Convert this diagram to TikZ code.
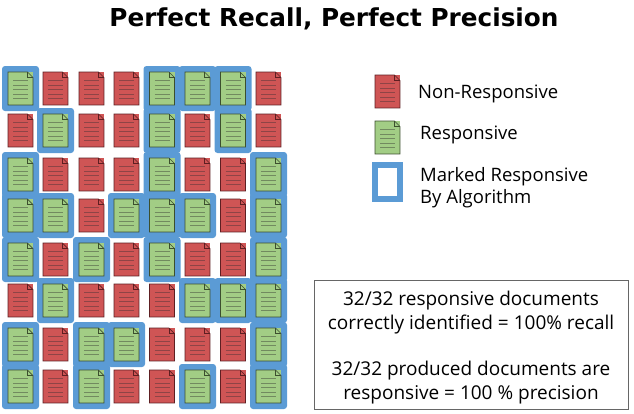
\documentclass[tikz,border=0pt]{standalone}
\usepackage{fontspec}
\setmainfont{Open Sans}
\newfontfamily\titlefont{DejaVu Sans}
\definecolor{mkblue}{HTML}{5B9BD5}
\definecolor{redfill}{HTML}{CF5555}
\definecolor{redline}{HTML}{5E1F22}
\definecolor{redrule}{HTML}{8E4446}
\definecolor{greenfill}{HTML}{A2CD85}
\definecolor{greenline}{HTML}{3C4F2E}
\definecolor{greenrule}{HTML}{718A5F}
\tikzset{
  mark box/.style={fill=mkblue,rounded corners=3pt},
  doc text/.style={font=\fontsize{19}{23.4}\selectfont,align=center,text=black},
  legend text/.style={font=\fontsize{18.5}{22}\selectfont,align=left,anchor=west,text=black,inner sep=0pt},
  pics/doc/.style args={#1/#2/#3}{code={
    \fill[#1] (-12.5,-16.5) rectangle (12.5,16.5);
    \draw[#2,line width=0.7pt,line join=miter] (-12.5,-16.5) -- (7,-16.5) -- (12.5,-11) -- (12.5,16.5) -- (-12.5,16.5) -- cycle;
    \draw[#2,line width=0.4pt] (7,-16.5) -- (7,-11) -- (12.5,-11);
    \foreach \yy in {-8,-3.5,1,5.5,10}
      \draw[#3,line width=0.8pt] (-7.5,\yy) -- (7.5,\yy);
  }},
  pics/reddoc/.style={code={\pic {doc=redfill/redline/redrule};}},
  pics/greendoc/.style={code={\pic {doc=greenfill/greenline/greenrule};}},
}
\begin{document}
\begin{tikzpicture}[x=1pt,y=-1pt]
\useasboundingbox (0,0) rectangle (634,413);
\def\colsx{{20.5,55.5,91.5,126.5,162,197.5,233,268.5}}
\def\rowsy{{88.5,130.5,174.5,215.5,259.5,300.5,344.5,386.5}}
% blue marks first so they lie behind all documents
\foreach \r/\cs in {0/{0,4,5,6},1/{1,4,6},2/{0,4,7},3/{0,1,3,4,5,7},4/{0,2,4,7},5/{1,5,6,7},6/{0,2,3,7},7/{0,2,5,7}}{
  \foreach \c in \cs {
    \pgfmathsetmacro{\px}{\colsx[\c]}
    \pgfmathsetmacro{\py}{\rowsy[\r]}
    \fill[mark box] (\px-18.5,\py-22.5) rectangle (\px+18.5,\py+22.5);
  }
}
\foreach \r/\row in {0/{g,r,r,r,g,g,g,r},1/{r,g,r,r,g,r,g,r},2/{g,r,r,r,g,r,r,g},3/{g,g,r,g,g,g,r,g},4/{g,r,g,r,g,r,r,g},5/{r,g,r,r,r,g,g,g},6/{g,r,g,g,r,r,r,g},7/{g,r,g,r,r,g,r,g}}{
  \foreach \k [count=\c from 0] in \row {
    \pgfmathsetmacro{\px}{\colsx[\c]}
    \pgfmathsetmacro{\py}{\rowsy[\r]}
    \if g\k\relax
      \pic at (\px,\py) {greendoc};
    \else
      \pic at (\px,\py) {reddoc};
    \fi
  }
}
\node[font=\titlefont\fontsize{24.7}{30}\selectfont\bfseries] (title) at (334,19) {Perfect Recall, Perfect Precision};
% legend
\pic at (387.5,91.5) {reddoc};
\pic at (387.5,137.5) {greendoc};
\draw[mkblue,line width=6pt] (375,165) rectangle (400,199);
\node[legend text] (lnon) at (418,94) {Non-Responsive};
\node[legend text] (lres) at (420,135) {Responsive};
\node[legend text] (lmark) at (420,188) {Marked Responsive\\By Algorithm};
\node[draw=black!60,line width=0.7pt,minimum width=314pt,minimum height=129pt] (sum) at (471,344.5) {};
\node[doc text] (sumtext) at (471,347.5)
  {32/32 responsive documents\\correctly identified = 100\% recall\\[23.4pt]32/32 produced documents are\\responsive = 100 \% precision};
\end{tikzpicture}
\end{document}
